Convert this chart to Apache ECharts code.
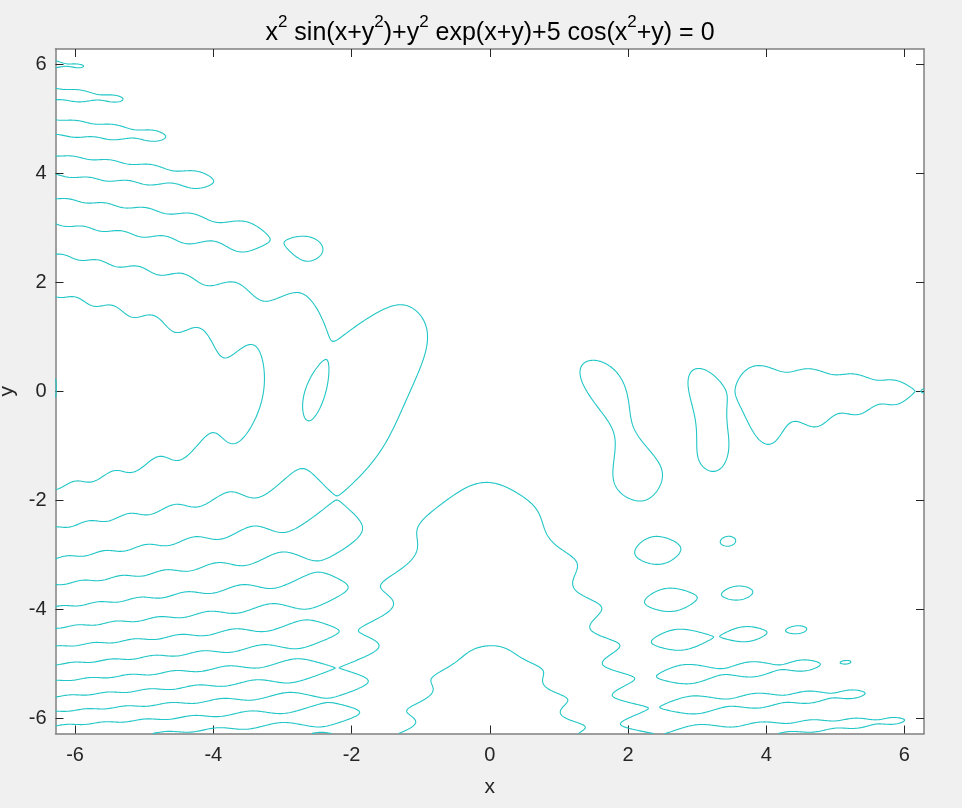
<!DOCTYPE html>
<html>
<head>
<meta charset="utf-8">
<script src="https://cdn.jsdelivr.net/npm/echarts@6/dist/echarts.min.js"></script>
<style>
  html, body { margin: 0; padding: 0; background: #f0f0f0; }
  #chart { width: 962px; height: 808px; }
</style>
</head>
<body>
<div id="chart"></div>
<script>
// domain and ticks as in the picture
const xRange = [-2 * Math.PI, 2 * Math.PI];
const yRange = [-2 * Math.PI, 2 * Math.PI];
const xTicks = [-6, -4, -2, 0, 2, 4, 6];
const yTicks = [-6, -4, -2, 0, 2, 4, 6];
const lineColor = '#22c6c6';

// the implicit equation from the title: f(x,y) = 0
const f = (x, y) =>
  x * x * Math.sin(x + y * y) + y * y * Math.exp(x + y) + 5 * Math.cos(x * x + y);

// zero contour by marching squares
const N = 700;
const hx = (xRange[1] - xRange[0]) / N;
const hy = (yRange[1] - yRange[0]) / N;
const V = new Float64Array((N + 1) * (N + 1));
for (let j = 0; j <= N; j++) {
  for (let i = 0; i <= N; i++) {
    V[j * (N + 1) + i] = f(xRange[0] + i * hx, yRange[0] + j * hy);
  }
}
const H = N * (N + 1);
const E = H + (N + 1) * N;
const nb = new Int32Array(E * 2).fill(-1);
const link = (a, b) => {
  if (nb[2 * a] < 0) nb[2 * a] = b; else nb[2 * a + 1] = b;
  if (nb[2 * b] < 0) nb[2 * b] = a; else nb[2 * b + 1] = a;
};
for (let j = 0; j < N; j++) {
  for (let i = 0; i < N; i++) {
    const bl = V[j * (N + 1) + i], br = V[j * (N + 1) + i + 1];
    const tl = V[(j + 1) * (N + 1) + i], tr = V[(j + 1) * (N + 1) + i + 1];
    const eB = j * N + i, eT = (j + 1) * N + i;
    const eL = H + j * (N + 1) + i, eR = eL + 1;
    const sB = (bl > 0) !== (br > 0), sR = (br > 0) !== (tr > 0);
    const sT = (tl > 0) !== (tr > 0), sL = (bl > 0) !== (tl > 0);
    if (sB && sR && sT && sL) {
      const c = (bl + br + tl + tr) / 4;
      if ((c > 0) === (bl > 0)) { link(eB, eR); link(eT, eL); }
      else { link(eB, eL); link(eR, eT); }
    } else {
      const l = [];
      if (sB) l.push(eB);
      if (sR) l.push(eR);
      if (sT) l.push(eT);
      if (sL) l.push(eL);
      if (l.length === 2) link(l[0], l[1]);
    }
  }
}
const pt = (e) => {
  if (e < H) {
    const j = Math.floor(e / N), i = e % N;
    const a = V[j * (N + 1) + i], b = V[j * (N + 1) + i + 1];
    const t = a / (a - b);
    return [xRange[0] + (i + t) * hx, yRange[0] + j * hy];
  }
  const k = e - H;
  const j = Math.floor(k / (N + 1)), i = k % (N + 1);
  const a = V[j * (N + 1) + i], b = V[(j + 1) * (N + 1) + i];
  const t = a / (a - b);
  return [xRange[0] + i * hx, yRange[0] + (j + t) * hy];
};
const visited = new Uint8Array(E);
const walk = (start) => {
  const pts = [];
  let cur = start;
  while (cur >= 0 && !visited[cur]) {
    visited[cur] = 1;
    pts.push(pt(cur));
    const a = nb[2 * cur], b = nb[2 * cur + 1];
    let nx = -1;
    if (a >= 0 && !visited[a]) nx = a;
    else if (b >= 0 && !visited[b]) nx = b;
    if (nx < 0 && (a === start || b === start) && pts.length > 2) pts.push(pts[0]);
    cur = nx;
  }
  return pts;
};
const curves = [];
for (let e = 0; e < E; e++) {
  if (!visited[e] && nb[2 * e] >= 0 && nb[2 * e + 1] < 0) curves.push(walk(e));
}
for (let e = 0; e < E; e++) {
  if (!visited[e] && nb[2 * e] >= 0) curves.push(walk(e));
}

const chart = echarts.init(document.getElementById('chart'));
const font = 'Liberation Sans, Arial, Helvetica, sans-serif';
const tickStyle = { show: true, inside: true, length: 8, lineStyle: { color: '#262626', width: 1 } };
const boxLine = { show: true, onZero: false, lineStyle: { color: '#808080', width: 1.5 } };
const mkAxis = (range, ticks, pos, main, name) => ({
  type: 'value',
  position: pos,
  min: range[0],
  max: range[1],
  name: main ? name : '',
  nameLocation: 'middle',
  nameGap: pos === 'bottom' ? 43 : 36,
  nameTextStyle: { color: '#262626', fontSize: 21, fontFamily: font },
  axisLine: boxLine,
  axisTick: Object.assign({ customValues: ticks }, tickStyle),
  axisLabel: {
    show: main,
    customValues: ticks,
    color: '#262626',
    fontSize: 20,
    fontFamily: font,
    margin: pos === 'bottom' ? 12 : 9
  },
  splitLine: { show: false }
});

const option = {
  backgroundColor: '#f0f0f0',
  animation: false,
  grid: {
    left: 55.5, right: 38, top: 49, bottom: 74.5,
    containLabel: false,
    outerBoundsMode: 'none',
    show: true, backgroundColor: '#ffffff', borderWidth: 0
  },
  xAxis: [
    mkAxis(xRange, xTicks, 'bottom', true, 'x'),
    mkAxis(xRange, xTicks, 'top', false, 'x')
  ],
  yAxis: [
    mkAxis(yRange, yTicks, 'left', true, 'y'),
    mkAxis(yRange, yTicks, 'right', false, 'y')
  ],
  graphic: [{
    type: 'text',
    x: 490,
    y: 30,
    style: {
      text: '{n|x}{s|2}{n| sin(x+y}{s|2}{n|)+y}{s|2}{n| exp(x+y)+5 cos(x}{s|2}{n|+y) = 0}',
      align: 'center',
      verticalAlign: 'middle',
      fill: '#000000',
      rich: {
        n: { fontSize: 25, fontFamily: font, lineHeight: 32, fill: '#000000', verticalAlign: 'bottom' },
        s: { fontSize: 17, fontFamily: font, lineHeight: 19, fill: '#000000', verticalAlign: 'top' }
      }
    }
  }],
  series: [{
    type: 'lines',
    coordinateSystem: 'cartesian2d',
    polyline: true,
    silent: true,
    lineStyle: { color: lineColor, width: 1.1, opacity: 1 },
    data: curves.map(c => ({ coords: c }))
  }]
};
chart.setOption(option);
</script>
</body>
</html>
